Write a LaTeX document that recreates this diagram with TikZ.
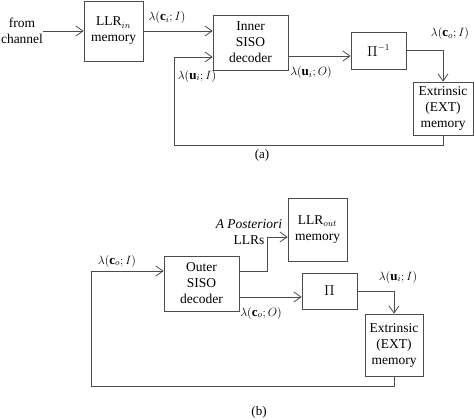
\documentclass[tikz,border=0pt]{standalone}
\usepackage{fontspec}
\setmainfont{Liberation Serif}
\usetikzlibrary{arrows.meta}
\begin{document}
\begin{tikzpicture}[x=1pt,y=-1pt,
  blk/.style={draw=black!70,line width=.8pt,align=center,inner sep=0pt,
    font=\fontsize{13.5}{16}\selectfont},
  txt/.style={align=center,inner sep=0pt,font=\fontsize{13.5}{16}\selectfont},
  lbl/.style={font=\fontsize{13}{15}\selectfont,inner sep=0pt},
  wire/.style={draw=black!70,line width=.8pt},
  >={Straight Barb[length=7pt,width=10pt]}]
\useasboundingbox (0,0) rectangle (474,420);
% (a) inner decoder
\node[txt] (chan) at (22,31) {from\\channel};
\node[blk,minimum width=59pt,minimum height=60pt] (llrin) at (113.5,31) {LLR$_{in}$\\memory};
\node[blk,minimum width=75pt,minimum height=55pt] (inner) at (250.5,42.5) {Inner\\SISO\\decoder};
\node[blk,minimum width=55pt,minimum height=37pt] (piinv) at (378.5,50.5) {$\Pi^{-1}$};
\node[blk,minimum width=60pt,minimum height=53pt] (exta) at (443,108.5) {Extrinsic\\(EXT)\\memory};
\draw[wire,->] (chan.east |- llrin) -- (llrin.west);
\draw[wire,->] (llrin.east) -- (llrin.east -| inner.west);
\draw[wire,->] (inner.east |- 0,56) -- (piinv.west |- 0,56);
\draw[wire,->] (piinv.east) -| (exta.north);
\coordinate (fa) at (174,145);
\draw[wire,->] (exta.south) |- (fa) |- (inner.west |- 0,57);
\node[lbl] (ci) at (167,18) {$\lambda(\mathbf{c}_i;I)$};
\node[lbl] (uiI) at (197,76) {$\lambda(\mathbf{u}_i;I)$};
\node[lbl] (uiO) at (311,73) {$\lambda(\mathbf{u}_i;O)$};
\node[lbl] (coI) at (450,34) {$\lambda(\mathbf{c}_o;I)$};
\node[lbl] (capa) at (262,155) {(a)};
% (b) outer decoder
\node[blk,minimum width=75pt,minimum height=55pt] (outer) at (201.5,283.5) {Outer\\SISO\\decoder};
\node[blk,minimum width=59pt,minimum height=63pt] (llrout) at (317.5,229.5) {LLR$_{out}$\\memory};
\node[blk,minimum width=55pt,minimum height=36pt] (pi) at (329.5,291) {$\Pi$};
\node[blk,minimum width=58pt,minimum height=62pt] (extb) at (394,345) {Extrinsic\\(EXT)\\memory};
\coordinate (up) at (267,237);
\draw[wire,->] (outer.east |- 0,271) -| (up) -- (llrout.west |- up);
\draw[wire,->] (outer.east |- 0,297) -- (pi.west |- 0,297);
\draw[wire,->] (pi.east) -| (extb.north);
\coordinate (fb) at (91,386);
\draw[wire,->] (extb.south) |- (fb) |- (outer.west |- 0,271);
\node[txt] (apost) at (249,232) {\textit{A Posteriori}\\LLRs};
\node[lbl] (coIb) at (117,261) {$\lambda(\mathbf{c}_o;I)$};
\node[lbl] (coO) at (261,313) {$\lambda(\mathbf{c}_o;O)$};
\node[lbl] (uiIb) at (398,277) {$\lambda(\mathbf{u}_i;I)$};
\node[lbl] (capb) at (259,412) {(b)};
\end{tikzpicture}
\end{document}
